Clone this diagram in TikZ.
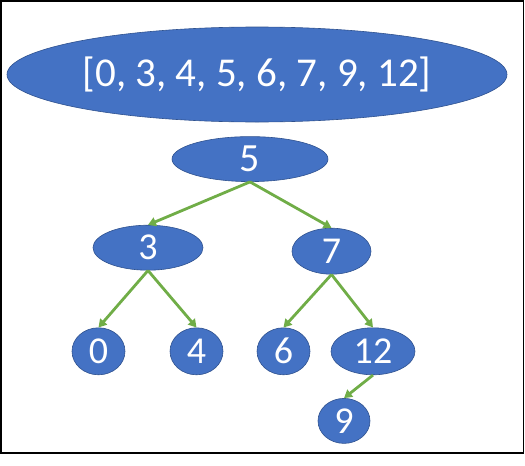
\documentclass[tikz,border=0pt]{standalone}
\usepackage{fontspec}
\setmainfont{Carlito}
\usetikzlibrary{positioning,shapes.geometric,arrows.meta}
\definecolor{nodeblue}{HTML}{4472C4}
\definecolor{nodeedge}{HTML}{2F528F}
\definecolor{edgegreen}{HTML}{70AD47}

\begin{document}
\begin{tikzpicture}[
		>={Triangle[width=9pt,length=8pt]},
		every node/.append style={
			ellipse,
			draw=nodeedge,
			fill=nodeblue,
			text=white,
			line width=.6pt,
			inner sep=0pt,
			font=\fontsize{38}{40}\selectfont,
		},
		key/.style={minimum width=53pt,minimum height=47pt},
		link/.style={->,draw=edgegreen,line width=2.8pt},
	]
	\useasboundingbox (0,0) rectangle (525pt,-466pt);
	\draw[line width=1.5pt] (1pt,-1pt) rectangle (523.5pt,-453pt);
	\node[minimum width=500pt,minimum height=95pt,font=\fontsize{41}{44}\selectfont] (list) at (257pt,-74.5pt) {[0, 3, 4, 5, 6, 7, 9, 12]};
	% root and second level
	\node[minimum width=156pt,minimum height=45pt,font=\fontsize{40}{44}\selectfont] (five) [below=14pt of list,xshift=-7pt] {5};
	\node[minimum width=110pt,minimum height=45pt] (three) [below=43pt of five,xshift=-102pt] {3};
	\node[minimum width=79pt,minimum height=46pt] (seven) [below=46pt of five,xshift=81.5pt] {7};
	% leaves
	\node[key] (zero) [below=57pt of three,xshift=-49.5pt] {0};
	\node[key] (four) [below=57pt of three,xshift=48.5pt] {4};
	\node[key] (six) [below=53pt of seven,xshift=-48pt] {6};
	\node[key,minimum width=84pt] (twelve) [below=53pt of seven,xshift=41.5pt] {12};
	\node[minimum width=52pt,minimum height=45pt] (nine) [below=23pt of twelve,xshift=-29pt] {9};
	% draw the connection lines
	\draw[link] (five.south) -- (three.north);
	\draw[link] (five.south) -- (seven.north);
	\draw[link] (three.south) -- (zero.north);
	\draw[link] (three.south) -- (four.north);
	\draw[link] (seven.south) -- (six.north);
	\draw[link] (seven.south) -- (twelve.north);
	\draw[link] (twelve.south) -- (nine.north);
\end{tikzpicture}
\end{document}
